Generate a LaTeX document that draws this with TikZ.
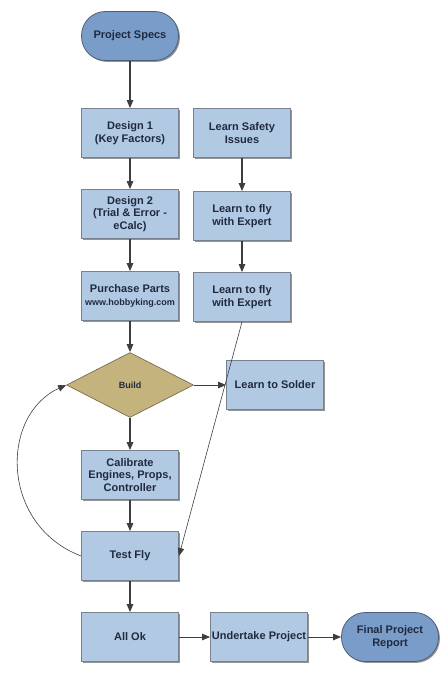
\documentclass[tikz,border=0pt]{standalone}
\usepackage{fontspec}
\setmainfont{Liberation Sans}
\usetikzlibrary{shapes.geometric,shadows,arrows.meta}

\definecolor{boxblue}{RGB}{178,201,228}
\definecolor{boxline}{RGB}{120,130,142}
\definecolor{termblue}{RGB}{122,156,201}
\definecolor{termline}{RGB}{78,94,120}
\definecolor{tan}{RGB}{197,179,126}
\definecolor{tanline}{RGB}{120,108,80}
\definecolor{textc}{RGB}{32,42,62}
\definecolor{arrowc}{RGB}{62,62,66}

\begin{document}
\begin{tikzpicture}[node distance={81pt}, text=textc,
    font=\bfseries\fontsize{11}{12.8}\selectfont,
    box/.style = {draw=boxline, fill=boxblue, line width=0.8pt, minimum width=97pt, minimum height=49pt, inner xsep=1pt, align=center,
        drop shadow={shadow xshift=1.4pt, shadow yshift=-1.4pt, fill=black!60, opacity=0.7}},
    term/.style = {box, draw=termline, fill=termblue, rounded corners=24pt},
    dec/.style = {diamond, draw=tanline, fill=tan, line width=0.7pt, minimum width=127pt, minimum height=65pt, inner sep=0pt,
        font=\bfseries\fontsize{9}{11}\selectfont},
    flow/.style = {-{Triangle[length=8pt,width=6.5pt]}, line width=1.2pt, draw=arrowc},
    slim/.style = {flow, line width=0.6pt}]
    \useasboundingbox (0pt,0pt) rectangle (444pt,-693pt);
    % main column
    \node[term] (specs) at (130pt,-36pt) {Project Specs};
    \node[box] (des1) [below of=specs, node distance=97pt] {Design 1\\(Key Factors)};
    \node[box] (des2) [below of=des1] {Design 2\\(Trial \& Error -\\eCalc)};
    \node[box] (buy) [below of=des2, node distance=82pt] {Purchase Parts\\{\fontsize{9}{11}\selectfont www.hobbyking.com}};
    \node[dec] (build) [below of=buy, node distance=89pt] {Build};
    \node[box] (calib) [below of=build, node distance=90pt] {Calibrate\\Engines, Props,\\Controller};
    \node[box] (test) [below of=calib] {Test Fly};
    \node[box] (ok) [below of=test] {All Ok};
    % side column
    \node[box] (safety) [right of=des1, node distance=112pt] {Learn Safety\\Issues};
    \node[box] (fly1) [below of=safety, node distance=83pt] {Learn to fly\\with Expert};
    \node[box] (fly2) [below of=fly1] {Learn to fly\\with Expert};
    \node[box] (solder) [right of=build, node distance=145pt] {Learn to Solder};
    % bottom row
    \node[box] (task) [right of=ok, node distance=129pt] {Undertake Project};
    \node[term] (report) [right of=task, node distance=131pt] {Final Project\\Report};
    \draw[flow] (specs) -- (des1);
    \draw[flow] (des1) -- (des2);
    \draw[flow] (des2) -- (buy);
    \draw[flow] (buy) -- (build.north);
    \draw[flow] (build.south) -- (calib);
    \draw[flow] (calib) -- (test);
    \draw[flow] (test) -- (ok);
    \draw[flow] (safety) -- (fly1);
    \draw[flow] (fly1) -- (fly2);
    \draw[flow, line width=0.9pt] (build.east) -- (solder);
    \draw[flow, line width=0.9pt] (ok) -- (task);
    \draw[flow, line width=0.9pt] (task) -- (report);
    \draw[slim] (fly2.south) -- (test.east);
    \draw[slim] (test.west) .. controls (0pt,-525pt) and (0pt,-415pt) .. (build.west);
\end{tikzpicture}
\end{document}
